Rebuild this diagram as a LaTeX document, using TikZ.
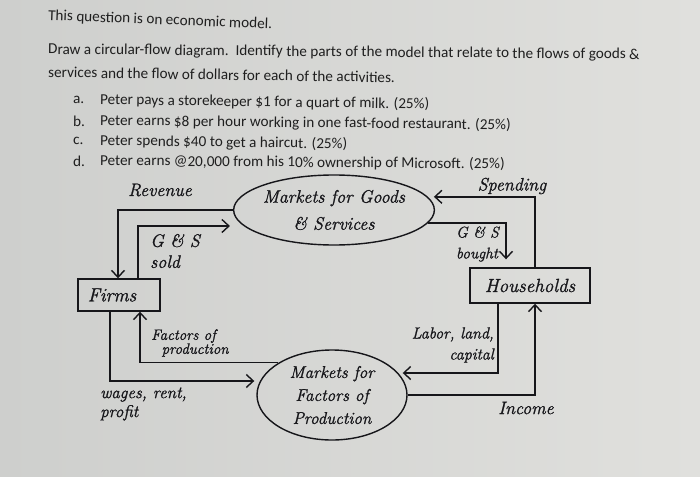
\documentclass[tikz,border=0pt]{standalone}
\usepackage{fontspec}
\setmainfont{Carlito}
\newfontfamily\hand{Latin Modern Roman}[ItalicFeatures={FakeBold=1.2}]
\usetikzlibrary{arrows.meta,shapes.geometric}
\definecolor{paperL}{RGB}{206,207,205}
\definecolor{paperR}{RGB}{224,224,221}
\definecolor{ink}{RGB}{22,22,26}
\tikzset{
  ptext/.style={font=\fontsize{15.2}{18}\selectfont, text=black!88, anchor=west, inner sep=0pt},
  htext/.style={font=\hand\itshape\fontsize{18}{21}\selectfont, text=ink, inner sep=0pt, align=left},
  mkt/.style={ellipse, draw=ink, line width=1.4pt, inner sep=0pt, align=center, font=\hand\itshape\fontsize{18}{27}\selectfont, text=ink},
  agent/.style={rectangle, draw=ink, line width=1.4pt, inner sep=0pt, font=\hand\itshape\fontsize{19}{19}\selectfont, text=ink},
  flow/.style={draw=ink, line width=1.4pt, -{Straight Barb[length=7pt,width=13pt,line width=1.4pt]}}
}
\begin{document}
\begin{tikzpicture}[x=1pt,y=-1pt]
\shade[left color=paperL, right color=paperR] (0,0) rectangle (700,476);
\useasboundingbox (0,0) rectangle (700,476);
% question text
\node[ptext, rotate=-2.2] (q1) at (48,16) {This question is on economic model.};
\node[ptext, rotate=-0.5] (q2) at (48,50) {Draw a circular-flow diagram.\ \ Identify the parts of the model that relate to the flows of goods \&};
\node[ptext, rotate=-0.9] (q3) at (48,72) {services and the flow of dollars for each of the activities.};
\node[ptext, rotate=-0.8] (la) at (73,100) {a.};
\node[ptext, rotate=-0.8] (ta) at (100,100) {Peter pays a storekeeper \$1 for a quart of milk. (25\%)};
\node[ptext, rotate=-0.6] (lb) at (73,121) {b.};
\node[ptext, rotate=-0.6] (tb) at (100,121) {Peter earns \$8 per hour working in one fast-food restaurant. (25\%)};
\node[ptext, rotate=-0.8] (lc) at (73,141) {c.};
\node[ptext, rotate=-0.8] (tc) at (100,141) {Peter spends \$40 to get a haircut. (25\%)};
\node[ptext, rotate=-0.5] (ld) at (73,161) {d.};
\node[ptext, rotate=-0.5] (td) at (100,161) {Peter earns @20,000 from his 10\% ownership of Microsoft. (25\%)};
% diagram nodes
\node[mkt, minimum width=176pt, minimum height=70pt] (MG) at (334,210) {Markets for Goods\\\& Services};
\node[mkt, minimum width=150pt, minimum height=90pt, font=\hand\itshape\fontsize{17}{23}\selectfont] (MF) at (332,395) {Markets for\\Factors of\\Production};
\node[agent, minimum width=82pt, minimum height=32pt] (F) at (119,295) {\hspace*{-14pt}Firms};
\node[agent, minimum width=120pt, minimum height=35pt] (H) at (530,285.5) {Households};
% labels
\node[htext] (lrev) at (160,190) {Revenue};
\node[htext] (lspd) at (512,186) {Spending};
\node[htext, anchor=west] (lgss) at (150,251) {G \& S\\sold};
\node[htext, anchor=east, font=\hand\itshape\fontsize{15.5}{21}\selectfont] (lgsb) at (499,244) {G \& S\\bought};
\node[htext, anchor=west, font=\hand\itshape\fontsize{15}{14}\selectfont] (lfop) at (151,343) {Factors of\\\ \ production};
\node[htext, anchor=east, align=right, font=\hand\itshape\fontsize{16}{21}\selectfont] (llab) at (494,345) {Labor, land,\\capital};
\node[htext, anchor=west, font=\hand\itshape\fontsize{17}{19}\selectfont] (lwag) at (100,404) {wages, rent,\\profit};
\node[htext] (linc) at (526,408) {Income};
% connection points
\coordinate (gsin) at ([xshift=-3pt,yshift=-16pt]MG.west);
\coordinate (spin) at ([xshift=6pt]MG.8);
\coordinate (labin) at ([xshift=-5pt,yshift=22pt]MF.east);
\coordinate (wagin) at ([xshift=-2pt,yshift=14pt]MF.west);
% flows
\draw[flow] (MG.west) -| ([xshift=-1pt]F.north);
\draw[flow] ([xshift=19pt]F.north) |- (gsin);
\draw[flow] ([xshift=5pt]H.north) |- (spin);
\draw[flow, shorten >=8pt] (MG.-8) -| ([xshift=-24pt]H.north);
\draw[flow] ([xshift=-32pt]H.south) |- (labin);
\draw[flow] (MF.east) -| ([xshift=5pt]H.south);
\draw[flow] ([xshift=-9pt]F.south) |- (wagin);
\draw[flow] (MF.north west) -| ([xshift=21pt]F.south);
\end{tikzpicture}
\end{document}
